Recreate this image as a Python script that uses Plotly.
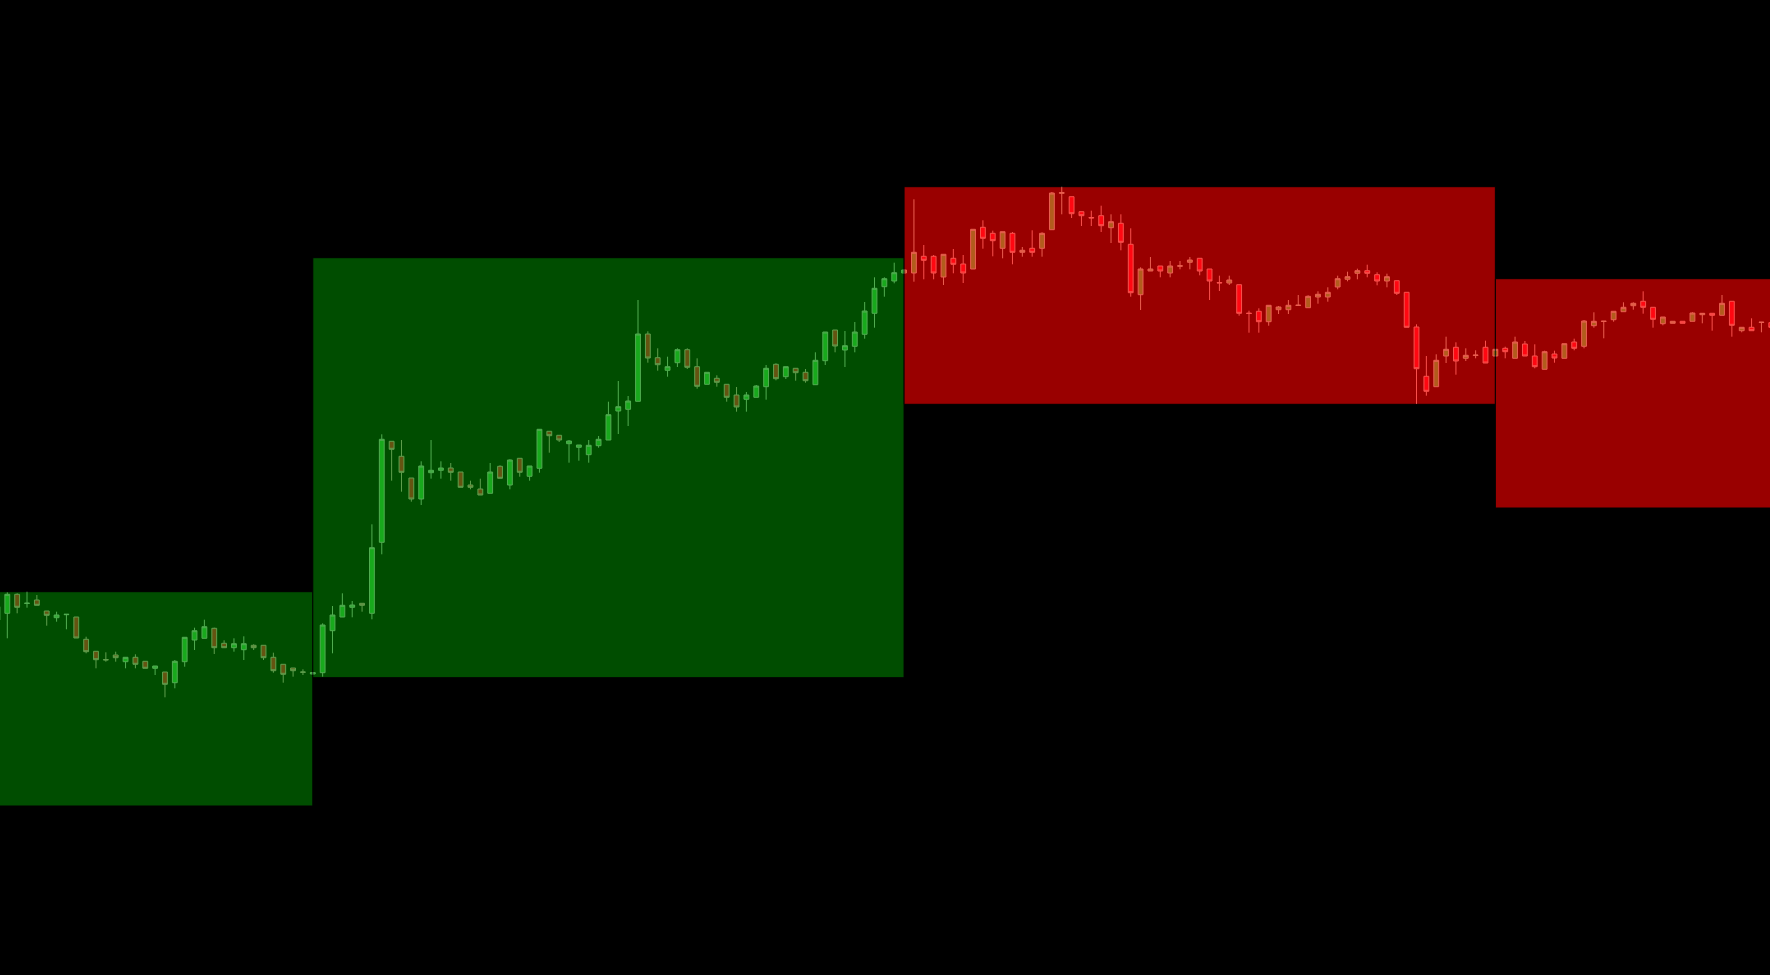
"""
Regime boxes over a candlestick chart (dark theme)
"""
import plotly.graph_objects as go

# bar index (one candle per bar)
bars = list(range(-1, 180))

opens = [
    38.00, 38.67, 40.57, 39.65, 40.00, 38.90, 38.23, 38.53, 38.30, 36.07,
    34.87, 34.05, 34.50, 33.83, 34.27, 33.87, 33.17, 32.80, 31.73, 33.83,
    36.00, 36.17, 37.17, 35.67, 35.23, 35.03, 35.47, 35.47, 34.27, 33.57,
    33.20, 32.80, 32.60, 32.73, 36.93, 38.30, 39.27, 39.67, 38.67, 45.77,
    55.87, 54.37, 52.20, 50.10, 52.73, 52.97, 53.20, 52.80, 51.50, 51.10,
    50.67, 53.37, 51.50, 54.17, 52.37, 53.17, 56.87, 56.47, 55.63, 55.27,
    54.53, 55.43, 56.00, 58.90, 59.07, 59.87, 66.60, 64.23, 62.97, 63.73,
    65.03, 63.33, 61.57, 62.17, 61.57, 60.50, 60.07, 60.27, 61.33, 63.57,
    62.33, 63.17, 62.77, 61.53, 63.93, 67.00, 65.00, 65.37, 66.57, 68.67,
    71.33, 71.90, 72.70, 72.70, 74.37, 74.37, 72.30, 74.17, 73.60, 73.10,
    77.27, 76.67, 75.17, 76.67, 74.77, 75.17, 75.17, 77.03, 80.67, 80.33,
    78.83, 78.25, 78.43, 77.23, 77.67, 75.57, 70.53, 72.90, 73.40, 72.70,
    73.38, 73.77, 74.17, 73.10, 71.75, 71.70, 71.53, 68.69, 68.87, 67.83,
    69.03, 69.03, 69.45, 69.23, 70.30, 70.30, 71.30, 72.07, 72.67, 72.93,
    72.53, 71.90, 71.93, 70.77, 67.30, 62.37, 61.33, 64.40, 65.27, 64.17,
    64.45, 65.27, 64.40, 65.17, 64.17, 65.60, 64.40, 63.07, 64.60, 64.17,
    65.80, 65.37, 67.43, 67.85, 68.03, 68.83, 69.43, 69.87, 69.27, 67.63,
    67.67, 67.87, 67.87, 68.53, 68.67, 68.47, 69.87, 66.93, 67.27, 67.75,
    67.73,
]
highs = [
    39.60, 40.77, 40.67, 40.83, 40.50, 38.90, 38.83, 38.57, 38.30, 36.33,
    34.87, 34.77, 34.83, 34.27, 34.57, 33.87, 33.40, 32.80, 34.00, 36.27,
    37.23, 38.03, 37.23, 35.97, 36.17, 36.37, 35.57, 35.47, 34.73, 33.57,
    33.20, 33.07, 32.76, 37.67, 39.40, 40.67, 39.90, 39.67, 47.57, 56.57,
    55.87, 56.00, 52.20, 53.87, 56.00, 53.87, 53.70, 52.80, 51.93, 52.13,
    53.70, 53.47, 54.07, 54.17, 53.40, 57.07, 56.87, 56.47, 56.00, 55.50,
    56.00, 56.40, 59.83, 61.90, 60.40, 70.00, 66.87, 65.17, 64.33, 65.17,
    65.17, 64.17, 62.77, 62.47, 61.57, 61.30, 60.80, 61.50, 63.50, 63.67,
    63.33, 63.17, 63.10, 64.77, 66.80, 67.00, 66.90, 67.80, 69.80, 72.27,
    72.27, 73.73, 73.07, 80.07, 75.50, 74.50, 74.57, 75.10, 74.50, 77.07,
    77.97, 76.93, 76.83, 76.80, 75.30, 76.97, 76.77, 80.80, 81.33, 80.33,
    78.83, 78.93, 79.43, 78.57, 78.57, 77.17, 73.27, 74.30, 73.40, 73.90,
    73.90, 74.30, 74.17, 73.10, 72.43, 72.43, 71.53, 68.93, 69.17, 69.47,
    69.40, 70.00, 70.50, 70.47, 70.87, 71.27, 72.43, 72.83, 73.13, 73.53,
    72.77, 72.63, 71.93, 70.77, 67.57, 64.40, 64.57, 66.33, 65.77, 65.17,
    64.97, 65.93, 65.07, 65.33, 66.33, 65.90, 65.57, 64.93, 64.93, 65.63,
    66.13, 68.00, 68.77, 67.88, 68.87, 69.77, 69.77, 70.87, 69.27, 68.30,
    67.87, 67.87, 68.77, 68.67, 68.67, 70.50, 69.87, 67.27, 68.17, 67.78,
    67.73,
]
lows = [
    37.80, 36.17, 38.67, 39.23, 39.47, 37.43, 37.83, 37.07, 36.20, 34.67,
    33.17, 33.83, 33.83, 33.17, 33.17, 33.17, 32.50, 30.27, 31.17, 33.33,
    35.00, 36.17, 34.60, 35.23, 34.83, 34.00, 35.00, 34.00, 32.73, 31.73,
    32.33, 32.50, 32.58, 32.33, 34.67, 38.30, 38.27, 38.83, 38.07, 44.57,
    51.93, 50.83, 49.83, 49.50, 52.13, 52.13, 51.93, 51.27, 51.07, 50.50,
    50.67, 52.17, 51.07, 52.33, 51.93, 52.73, 54.73, 55.80, 53.73, 53.93,
    53.73, 55.23, 56.00, 56.60, 57.40, 59.87, 63.73, 62.93, 62.33, 63.30,
    63.10, 61.13, 61.57, 61.33, 59.83, 58.83, 58.83, 60.27, 60.03, 61.97,
    62.10, 61.93, 61.73, 61.53, 63.50, 64.77, 63.30, 64.77, 66.13, 67.23,
    70.33, 71.67, 72.67, 71.83, 72.07, 72.07, 71.50, 72.67, 71.70, 73.10,
    75.13, 74.37, 74.17, 73.57, 74.33, 74.33, 74.33, 77.03, 78.57, 78.20,
    77.40, 77.40, 76.80, 75.70, 74.97, 70.33, 69.00, 72.90, 72.27, 72.27,
    73.07, 73.07, 72.47, 70.00, 70.90, 71.50, 68.43, 66.73, 66.73, 67.43,
    68.60, 68.60, 69.45, 69.23, 69.63, 69.83, 71.07, 71.87, 72.07, 72.27,
    71.47, 71.27, 70.50, 67.27, 59.60, 60.43, 61.33, 63.70, 62.53, 63.90,
    64.17, 63.70, 64.40, 64.17, 64.17, 64.40, 63.17, 63.07, 63.73, 64.17,
    64.97, 65.17, 67.23, 66.17, 67.83, 68.83, 69.03, 68.63, 67.23, 67.47,
    67.67, 67.67, 67.87, 67.67, 66.93, 68.47, 66.33, 66.77, 66.93, 66.77,
    67.27,
]
closes = [
    39.33, 40.57, 39.27, 39.68, 39.47, 38.47, 38.50, 38.57, 36.20, 34.83,
    34.03, 34.01, 34.23, 34.27, 33.57, 33.17, 33.40, 31.57, 33.87, 36.27,
    36.93, 37.33, 35.23, 35.23, 35.63, 35.63, 35.23, 34.23, 32.93, 32.57,
    32.93, 32.78, 32.74, 37.50, 38.50, 39.47, 39.50, 39.47, 45.23, 56.07,
    55.07, 52.77, 50.10, 53.40, 52.97, 53.20, 52.77, 51.27, 51.27, 50.50,
    52.80, 52.17, 54.00, 52.77, 53.40, 57.07, 56.43, 56.00, 55.90, 55.50,
    55.47, 56.07, 58.53, 59.33, 59.90, 66.60, 64.20, 63.53, 63.33, 65.03,
    63.27, 61.37, 62.77, 61.77, 60.27, 59.30, 60.50, 61.40, 63.17, 62.13,
    63.33, 62.73, 61.93, 63.97, 66.80, 65.40, 65.43, 66.80, 68.90, 71.17,
    72.13, 72.73, 73.00, 74.77, 73.97, 72.70, 74.57, 73.57, 72.70, 77.07,
    76.17, 75.93, 76.83, 74.77, 74.97, 74.77, 76.67, 80.70, 80.73, 78.63,
    78.43, 78.21, 77.43, 77.83, 75.77, 70.73, 73.10, 73.10, 72.90, 73.40,
    73.42, 74.00, 72.90, 71.90, 71.71, 72.00, 68.67, 68.65, 67.83, 69.47,
    69.30, 69.47, 69.48, 70.37, 70.57, 70.77, 72.13, 72.33, 72.93, 72.67,
    71.90, 72.33, 70.67, 67.27, 63.13, 60.87, 63.97, 65.07, 63.90, 64.47,
    64.49, 63.70, 65.07, 64.83, 65.80, 64.40, 63.33, 64.83, 64.20, 65.63,
    65.17, 67.90, 67.87, 67.88, 68.87, 69.27, 69.67, 69.27, 68.07, 68.30,
    67.87, 67.67, 68.70, 68.67, 68.47, 69.67, 67.47, 67.27, 66.93, 67.78,
    67.27,
]

# trend regimes: first bar, last bar, range high, range low, direction
regime_start = [-29, 31, 91, 151]
regime_end = [31, 91, 151, 211]
regime_high = [40.83, 74.23, 81.33, 72.13]
regime_low = [19.40, 32.23, 59.57, 49.20]
regime_dir = ['up', 'up', 'down', 'down']

fig = go.Figure()
fig.add_trace(go.Candlestick(
    x=bars, open=opens, high=highs, low=lows, close=closes,
    increasing=dict(fillcolor='rgb(62,232,72)', line=dict(color='rgb(205,240,205)', width=1)),
    decreasing=dict(fillcolor='rgb(255,20,45)', line=dict(color='rgb(240,205,195)', width=1)),
    showlegend=False, hoverinfo='skip'))

for x0, x1, hi, lo, d in zip(regime_start, regime_end, regime_high, regime_low, regime_dir):
    fig.add_shape(type='rect', xref='x', yref='y', x0=x0, x1=x1, y0=lo, y1=hi,
                  fillcolor='green' if d == 'up' else 'red', opacity=0.6,
                  line=dict(color='black', width=1), layer='above')

fig.update_layout(
    width=1770, height=975,
    paper_bgcolor='black', plot_bgcolor='black',
    margin=dict(l=0, r=0, t=103, b=98),
    showlegend=False,
    xaxis=dict(range=[-0.741, 178.87], visible=False, rangeslider=dict(visible=False)),
    yaxis=dict(range=[12.3, 89.7], visible=False),
)
# page has no body margin so the black paper fills the window
fig.write_html("out.html", config=dict(displayModeBar=False),
               post_script="document.body.style.margin='0';document.body.style.background='black';")
